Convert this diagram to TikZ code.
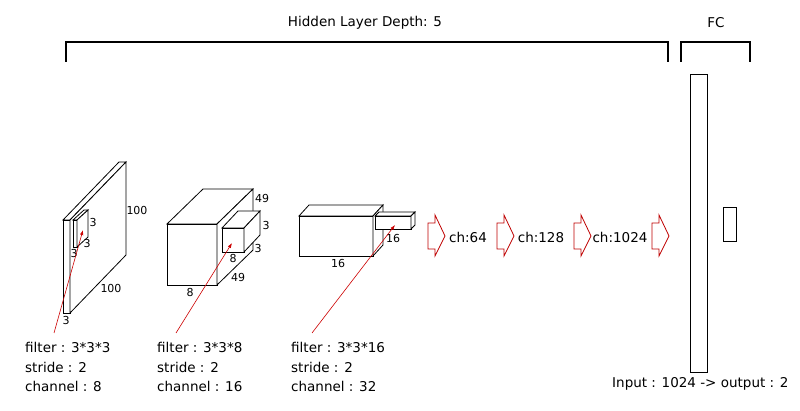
\documentclass[tikz,border=0pt]{standalone}
\usepackage{fontspec}
\setmainfont{DejaVu Sans}
\usetikzlibrary{arrows.meta}
\begin{document}
\begin{tikzpicture}[x=1pt,y=-1pt,
  lbl/.style={font=\fontsize{11}{13}\selectfont,inner sep=0pt},
  txt/.style={font=\fontsize{13.5}{15}\selectfont,inner sep=0pt,anchor=west},
  box/.style={draw=black,line width=0.8pt,fill=white},
  brk/.style={draw=black,line width=2.2pt},
  pt/.style={draw=red!80!black,-{Latex[length=5pt,width=3.5pt]},line width=0.6pt},
  blk/.style={draw=red!75!black,fill=white,line width=0.8pt,line join=miter},
  ]
\useasboundingbox (0,0) rectangle (800,411);
% brackets
\draw[brk] (66,62) -- (66,42) -- (668,42) -- (668,62);
\draw[brk] (681,62) -- (681,42) -- (750,42) -- (750,62);
\node[txt,anchor=center] (title) at (365,23) {Hidden Layer Depth: 5};
\node[txt,anchor=center] (fc) at (716,23) {FC};
% FC
\draw[box] (690,74) rectangle (707,372);
\draw[box] (723,207) rectangle (736,241);
% plate 1
\draw[box] (63,220) rectangle (70,313);
\draw[box] (63,220) -- (119,162) -- (126,162) -- (70,220) -- cycle;
\draw[box] (70,220) -- (126,162) -- (126,255) -- (70,313) -- cycle;
\draw[box] (73,220) rectangle (77,247);
\draw[box] (73,220) -- (84,210) -- (88,210) -- (77,220) -- cycle;
\draw[box] (77,220) -- (88,210) -- (88,237) -- (77,247) -- cycle;
\coordinate (t1) at (83,230);
\node[lbl] at (93,222) {3};
\node[lbl] at (87,243) {3};
\node[lbl] at (74,253) {3};
\node[lbl] at (137,210) {100};
\node[lbl] at (111,288) {100};
\node[lbl] at (66,320) {3};
% cube 2
\draw[box] (167,224) rectangle (217,285);
\draw[box] (167,224) -- (203,189) -- (253,189) -- (217,224) -- cycle;
\draw[box] (217,224) -- (253,189) -- (253,250) -- (217,285) -- cycle;
\draw[box] (222,228) rectangle (244,252);
\draw[box] (222,228) -- (238,211) -- (260,211) -- (244,228) -- cycle;
\draw[box] (244,228) -- (260,211) -- (260,235) -- (244,252) -- cycle;
\coordinate (t2) at (232,243);
\node[lbl] at (262,198) {49};
\node[lbl] at (266,225) {3};
\node[lbl] at (258,248) {3};
\node[lbl] at (233,258) {8};
\node[lbl] at (238,277) {49};
\node[lbl] at (190,292) {8};
% cube 3
\draw[box] (299,216) rectangle (373,256);
\draw[box] (299,216) -- (309,205) -- (383,205) -- (373,216) -- cycle;
\draw[box] (373,216) -- (383,205) -- (383,245) -- (373,256) -- cycle;
\draw[box] (375,216) rectangle (411,229);
\draw[box] (375,216) -- (379,212) -- (415,212) -- (411,216) -- cycle;
\draw[box] (411,216) -- (415,212) -- (415,225) -- (411,229) -- cycle;
\coordinate (t3) at (395,225);
\node[lbl] at (393,238) {16};
\node[lbl] at (338,263) {16};
% texts
\node[txt] (f1) at (25,347) {filter : 3*3*3};
\node[txt] (s1) at (25,367) {stride : 2};
\node[txt] (c1) at (25,386) {channel : 8};
\node[txt] (f2) at (157,347) {filter : 3*3*8};
\node[txt] (s2) at (157,367) {stride : 2};
\node[txt] (c2) at (157,386) {channel : 16};
\node[txt] (f3) at (291,347) {filter : 3*3*16};
\node[txt] (s3) at (291,367) {stride : 2};
\node[txt] (c3) at (291,386) {channel : 32};
\node[txt] (io) at (612,384) {Input : 1024 -> output : 2};
\coordinate (a1) at (54,333);
\coordinate (a2) at (176,333);
\coordinate (a3) at (312,333);
\draw[pt] (a1) -- (t1);
\draw[pt] (a2) -- (t2);
\draw[pt] (a3) -- (t3);
% block arrows
\foreach \x in {428,497,574,652}{
  \draw[blk] (\x,223) -- (\x+7,223) -- (\x+7,215) -- (\x+17,236) -- (\x+7,256) -- (\x+7,249) -- (\x,249) -- cycle;
}
\node[txt,anchor=center] (ch1) at (468,237) {ch:64};
\node[txt,anchor=center] (ch2) at (541,237) {ch:128};
\node[txt,anchor=center] (ch3) at (620,237) {ch:1024};
\end{tikzpicture}
\end{document}
